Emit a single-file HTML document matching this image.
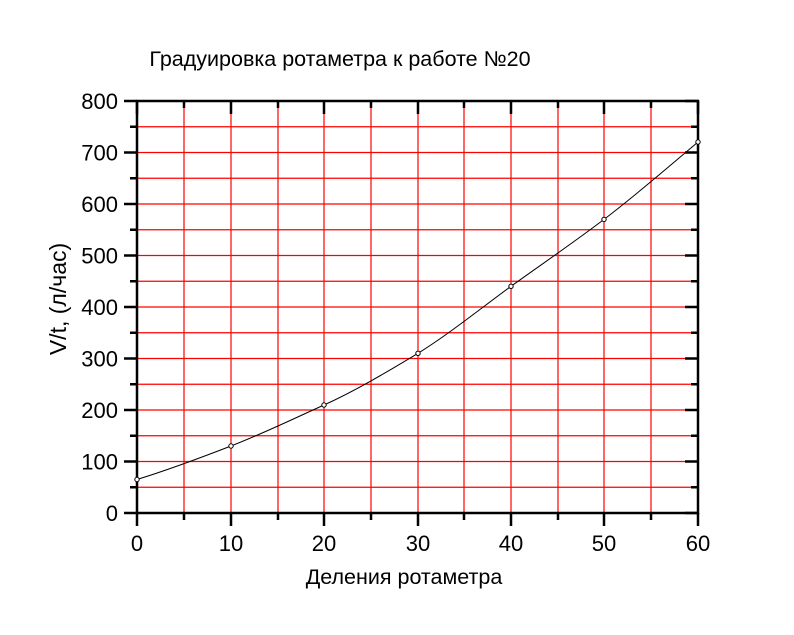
<!DOCTYPE html>
<html><head><meta charset="utf-8"><style>body{margin:0;background:#fff}svg text{font-family:"Liberation Sans",sans-serif}</style></head><body>
<svg width="794" height="630" xmlns="http://www.w3.org/2000/svg">
<text x="340" y="66" font-size="21.5" text-anchor="middle">Градуировка ротаметра к работе №20</text>
<g stroke="#f00" stroke-width="1.2">
<line x1="184" y1="101" x2="184" y2="513"/><line x1="231" y1="101" x2="231" y2="513"/><line x1="278" y1="101" x2="278" y2="513"/><line x1="324" y1="101" x2="324" y2="513"/><line x1="371" y1="101" x2="371" y2="513"/><line x1="418" y1="101" x2="418" y2="513"/><line x1="464" y1="101" x2="464" y2="513"/><line x1="511" y1="101" x2="511" y2="513"/><line x1="558" y1="101" x2="558" y2="513"/><line x1="604" y1="101" x2="604" y2="513"/><line x1="651" y1="101" x2="651" y2="513"/>
<line x1="137" y1="126.75" x2="698" y2="126.75"/><line x1="137" y1="152.5" x2="698" y2="152.5"/><line x1="137" y1="178.25" x2="698" y2="178.25"/><line x1="137" y1="204" x2="698" y2="204"/><line x1="137" y1="229.75" x2="698" y2="229.75"/><line x1="137" y1="255.5" x2="698" y2="255.5"/><line x1="137" y1="281.25" x2="698" y2="281.25"/><line x1="137" y1="307" x2="698" y2="307"/><line x1="137" y1="332.75" x2="698" y2="332.75"/><line x1="137" y1="358.5" x2="698" y2="358.5"/><line x1="137" y1="384.25" x2="698" y2="384.25"/><line x1="137" y1="410" x2="698" y2="410"/><line x1="137" y1="435.75" x2="698" y2="435.75"/><line x1="137" y1="461.5" x2="698" y2="461.5"/><line x1="137" y1="487.25" x2="698" y2="487.25"/>
</g>
<g stroke="#000" stroke-width="2.5">
<rect x="137" y="101" width="561" height="412" fill="none"/>
<path d="M137 513v13M231 513v13M324 513v13M418 513v13M511 513v13M604 513v13M698 513v13M184 513v7M278 513v7M371 513v7M464 513v7M558 513v7M651 513v7"/>
<path d="M137 101v13M231 101v13M324 101v13M418 101v13M511 101v13M604 101v13M698 101v13M184 101v7M278 101v7M371 101v7M464 101v7M558 101v7M651 101v7"/>
<path d="M124 101h13M124 152.5h13M124 204h13M124 255.5h13M124 307h13M124 358.5h13M124 410h13M124 461.5h13M124 513h13M130 126.75h7M130 178.25h7M130 229.75h7M130 281.25h7M130 332.75h7M130 384.25h7M130 435.75h7M130 487.25h7"/>
<path d="M685 101h13M685 152.5h13M685 204h13M685 255.5h13M685 307h13M685 358.5h13M685 410h13M685 461.5h13M685 513h13M691 126.75h7M691 178.25h7M691 229.75h7M691 281.25h7M691 332.75h7M691 384.25h7M691 435.75h7M691 487.25h7"/>
</g>
<path d="M137 479.5 C168 470,200 458,231 446 C262 434,293 419,324 405 C355 391,387 372,418 353.3 C449 334,480 309,511 286.3 C542 264,573 243,604 219.4 C635 196,666 169,698 142" fill="none" stroke="#000" stroke-width="1"/>
<g fill="#fff" stroke="#000" stroke-width="1">
<circle cx="137" cy="479.5" r="2.2"/><circle cx="231" cy="446" r="2.2"/><circle cx="324" cy="405" r="2.2"/><circle cx="418" cy="353.3" r="2.2"/><circle cx="511" cy="286.3" r="2.2"/><circle cx="604" cy="219.4" r="2.2"/><circle cx="698" cy="142" r="2.2"/>
</g>
<g font-size="22" text-anchor="end">
<text x="118" y="109">800</text><text x="118" y="160.5">700</text><text x="118" y="212">600</text><text x="118" y="263.5">500</text><text x="118" y="315">400</text><text x="118" y="366.5">300</text><text x="118" y="418">200</text><text x="118" y="469.5">100</text><text x="118" y="521">0</text>
</g>
<g font-size="22" text-anchor="middle">
<text x="137" y="551">0</text><text x="231" y="551">10</text><text x="324" y="551">20</text><text x="418" y="551">30</text><text x="511" y="551">40</text><text x="604" y="551">50</text><text x="698" y="551">60</text>
</g>
<text x="404" y="584" font-size="21.5" text-anchor="middle">Деления ротаметра</text>
<text transform="translate(66,299) rotate(-90)" font-size="23" text-anchor="middle">V/t, (л/час)</text>
</svg>
</body></html>
